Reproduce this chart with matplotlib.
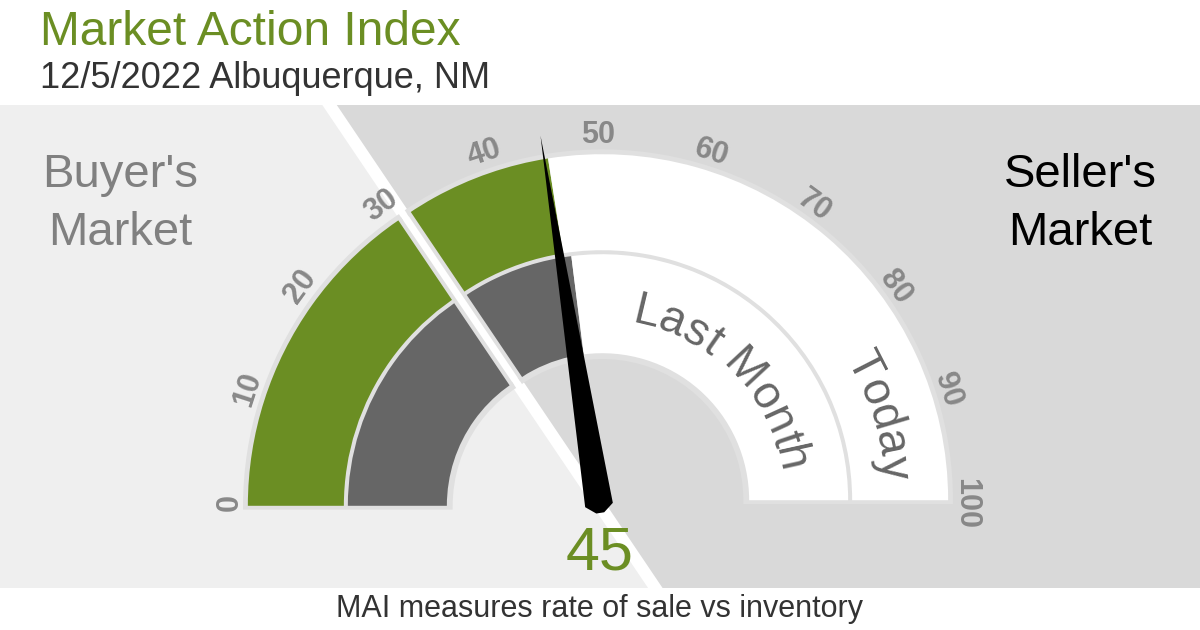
import numpy as np
import matplotlib
matplotlib.use('Agg')
import matplotlib.pyplot as plt
from matplotlib.patches import Rectangle, Polygon, Wedge
from matplotlib.font_manager import FontProperties, findfont
from matplotlib.ft2font import FT2Font

plt.rcParams['font.family'] = ['Liberation Sans', 'DejaVu Sans']

# Data
title = 'Market Action Index'
subtitle = '12/5/2022 Albuquerque, NM'
footnote = 'MAI measures rate of sale vs inventory'
left_label = ["Buyer's", 'Market']
right_label = ["Seller's", 'Market']
scale_min, scale_max = 0, 100
split_value = 30
mai_today = 45
mai_last_month = 46
tick_values = [0, 10, 20, 30, 40, 50, 60, 70, 80, 90, 100]
ring_names = ['Today', 'Last Month']

# Colors
GREEN = '#6b8e23'
DARK = '#666666'
LIGHT_BG = '#efefef'
DARK_BG = '#d9d9d9'
TRACK = '#e0e0e0'

W, H = 1200, 630
fig = plt.figure(figsize=(W / 100, H / 100), dpi=100)
ax = fig.add_axes([0, 0, 1, 1])
ax.set_xlim(0, W)
ax.set_ylim(0, H)
ax.axis('off')


def val2ang(v):
    return 180.0 - 180.0 * (v - scale_min) / (scale_max - scale_min)


def unit(a):
    r = np.radians(a)
    return np.array([np.cos(r), np.sin(r)])


C = np.array([598.0, 127.0])
split_ang = val2ang(split_value) - 2
d = unit(split_ang)
n = np.array([d[1], -d[0]])  # points to the right-hand (seller) side


def half_plane(offset, side):
    base = C + side * offset * n
    pts = [base - 3000 * d, base + 3000 * d,
           base + 3000 * d + side * 3000 * n, base - 3000 * d + side * 3000 * n]
    return Polygon(pts, closed=True, transform=ax.transData)


# background band
band = Rectangle((0, 42), W, 483, fc=LIGHT_BG, ec='none', zorder=0)
ax.add_patch(band)
right_bg = half_plane(0, 1)
right_bg.set_facecolor(DARK_BG)
right_bg.set_edgecolor('none')
right_bg.set_zorder(0.5)
ax.add_patch(right_bg)
right_bg.set_clip_path(band)
sl = np.array([C - 2000 * d, C + 2000 * d])
line, = ax.plot(sl[:, 0], sl[:, 1], color='white', lw=12 * 0.72,
                solid_capstyle='butt', zorder=0.8)
line.set_clip_path(band)

# gauge pieces
R_TRACK_IN, R_TRACK_OUT = 145, 347
R_TODAY = (250, 346)
R_LAST = (147, 246)


def wedge(center, radii, a0, a1, color, clip, z, lw=0):
    w = Wedge(center, radii[1], a0, a1, width=radii[1] - radii[0],
              fc=color, ec=color if lw else 'none', lw=lw, zorder=z)
    ax.add_patch(w)
    w.set_clip_path(clip)
    return w


for side in (-1, 1):
    cen = C + side * 5 * n
    track_clip = half_plane(3.5, side)
    fill_clip = half_plane(7.5, side)
    if side < 0:
        a0, a1 = split_ang - 15, 180
    else:
        a0, a1 = 0, split_ang + 15
    wedge(cen, (R_TRACK_IN, R_TRACK_OUT), a0, a1, TRACK, track_clip, 1, lw=5.5)
    if side < 0:
        wedge(cen, R_TODAY, a0, a1, GREEN, fill_clip, 2)
        wedge(cen, R_LAST, a0, a1, DARK, fill_clip, 2)
    else:
        at = val2ang(mai_today)
        al = val2ang(mai_last_month)
        wedge(cen, R_TODAY, at, a1, GREEN, fill_clip, 2)
        wedge(cen, R_TODAY, 0, at, 'white', fill_clip, 2)
        wedge(cen, R_LAST, al, a1, DARK, fill_clip, 2)
        wedge(cen, R_LAST, 0, al, 'white', fill_clip, 2)

# tick labels
for v in tick_values:
    a = val2ang(v)
    p = C + 368 * unit(a)
    ax.text(p[0], p[1], str(v), rotation=a - 90, rotation_mode='anchor',
            ha='center', va='center', fontsize=22, fontweight='bold',
            color='#888888', zorder=3)

# curved ring labels
font = FT2Font(findfont(FontProperties(family='Liberation Sans')))


def arc_text(text, center, r, mid_ang, size, color):
    font.set_size(size, 100)
    advs = [font.load_char(ord(ch)).linearHoriAdvance / 65536 for ch in text]
    total = sum(advs)
    s = 0.0
    for ch, adv in zip(text, advs):
        mid = s + adv / 2
        ang = mid_ang + np.degrees((total / 2 - mid) / r)
        p = center + r * unit(ang)
        ax.text(p[0], p[1], ch, rotation=ang - 90, rotation_mode='anchor',
                ha='center', va='baseline', fontsize=size, color=color, zorder=4)
        s += adv


rc = C + 5 * n
arc_text(ring_names[1], rc, 180, 44.5, 33, DARK)
arc_text(ring_names[0], rc, 281, 17, 33, DARK)

# needle
P = np.array([599.0, 125.0])
na = val2ang(mai_today)
u = unit(na)
perp = np.array([-u[1], u[0]])
needle = [P + 374 * u, P + 14 * perp, P + 4 * perp - 8 * u,
          P - 4 * perp - 8 * u, P - 14 * perp]
ax.add_patch(Polygon(needle, closed=True, fc='black', ec='none', zorder=6))

# texts
ax.text(40, 585, title, fontsize=34.5, color=GREEN, va='baseline', ha='left', zorder=7)
ax.text(40, 542, subtitle, fontsize=26, color='#333333', va='baseline', ha='left', zorder=7)
ax.text(120, 443, left_label[0], fontsize=34, color='#808080', ha='center', va='baseline', zorder=7)
ax.text(120, 385, left_label[1], fontsize=34, color='#808080', ha='center', va='baseline', zorder=7)
ax.text(1080, 443, right_label[0], fontsize=34, color='black', ha='center', va='baseline', zorder=7)
ax.text(1080, 385, right_label[1], fontsize=34, color='black', ha='center', va='baseline', zorder=7)
ax.text(600, 60, str(mai_today), fontsize=44, color=GREEN, ha='center', va='baseline', zorder=7)
ax.text(600, 13, footnote, fontsize=22, color='#333333', ha='center', va='baseline', zorder=7)

fig.savefig('out.png', dpi=100, facecolor='white')
